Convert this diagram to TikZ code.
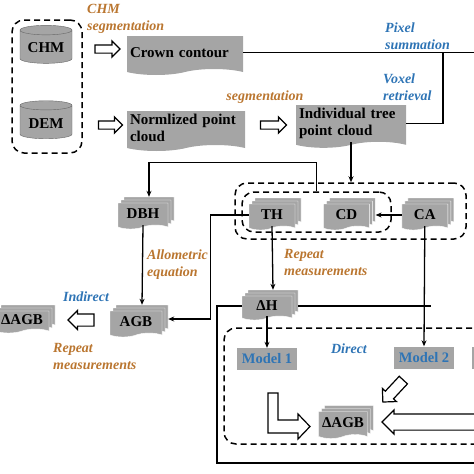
\documentclass[tikz,border=0pt]{standalone}
\usepackage{fontspec}
\setmainfont{Liberation Serif}
\usepackage{tikz}
\usetikzlibrary{shapes.geometric, shapes.symbols, shapes.arrows, shadows, arrows.meta, positioning}
\definecolor{boxgray}{RGB}{165,165,165}
\definecolor{notebrown}{RGB}{186,118,48}
\definecolor{noteblue}{RGB}{46,116,181}
\tikzstyle{db} = [cylinder, shape border rotate=90, aspect=0.22, draw=gray!80!black, fill=boxgray, minimum width=52pt, minimum height=38pt, font=\bfseries\fontsize{15}{17}\selectfont]
\tikzstyle{doc} = [tape, tape bend top=none, tape bend bottom=in and out, tape bend height=6pt, fill=boxgray, draw=none, align=left, inner sep=3pt, font=\bfseries\fontsize{15}{17}\selectfont]
\tikzstyle{stack} = [tape, tape bend top=none, tape bend bottom=in and out, tape bend height=4pt, fill=boxgray, draw=white, minimum width=46pt, minimum height=26pt, double copy shadow={shadow xshift=3pt, shadow yshift=3pt, fill=boxgray, draw=white}, font=\bfseries\fontsize{15}{17}\selectfont]
\tikzstyle{model} = [rectangle, fill=boxgray, minimum width=60pt, minimum height=22pt, text=noteblue, font=\bfseries\fontsize{14.5}{17}\selectfont]
\tikzstyle{group} = [rectangle, draw, dash pattern=on 6pt off 4pt, line width=1.5pt, rounded corners=12pt]
\tikzstyle{hollow} = [single arrow, draw, fill=white, line width=1.2pt, inner sep=3.5pt, single arrow head extend=4pt]
\tikzstyle{link} = [line width=1.3pt, -{Stealth[length=6pt, width=5pt]}]
\tikzstyle{wire} = [line width=1.3pt]
\tikzstyle{brownnote} = [text=notebrown, align=left, inner sep=1pt, font=\bfseries\itshape\fontsize{14}{17}\selectfont]
\tikzstyle{bluenote} = [text=noteblue, align=left, inner sep=1pt, font=\bfseries\itshape\fontsize{14}{17}\selectfont]

\begin{document}
\begin{tikzpicture}[x=1pt, y=-1pt]
\useasboundingbox (0,0) rectangle (474,474);

% Input rasters
\node[db] (chm) at (46,48) {CHM};
\node[db, below=37pt of chm] (dem) {DEM};
\node[group, minimum width=70pt, minimum height=133pt] (rasters) at (47,86.5) {};

% Point cloud products
\node[doc, text width=110pt, minimum height=39pt] (crown) at (185,52.5) {Crown contour};
\node[doc, text width=112pt, minimum height=40pt] (normpc) at (186,128) {Normlized point\\cloud};
\node[doc, text width=104pt, minimum height=37pt] (treepc) at (351,123.5) {Individual tree\\point cloud};

% Block arrows (top)
\node[hollow, minimum height=25pt] (chmarrow) at (105.5,49) {};
\node[hollow, minimum height=24pt] (demarrow) at (108.5,125) {};
\node[hollow, minimum height=26pt] (segarrow) at (271.5,125) {};

% Labels (top)
\node[brownnote, anchor=west] (chmseg) at (86,18.5) {CHM\\segmentation};
\node[brownnote] (treeseg) at (265,97) {segmentation};
\node[bluenote, anchor=west] (pixsum) at (384,36) {Pixel\\summation};
\node[bluenote, anchor=west] (voxret) at (382,87) {Voxel\\retrieval};

% Tree attributes
\node[stack] (th) at (272,215) {TH};
\node[stack, right=28pt of th] (cd) {CD};
\node[stack, right=32pt of cd] (ca) {CA};
\node[group, minimum width=149pt, minimum height=40pt] (inner) at (316.5,212) {};
\node[group, minimum width=231pt, minimum height=56pt] (outer) at (350.5,211) {};

% Indirect path
\node[stack, minimum width=50pt] (dbh) at (143,214) {DBH};
\node[stack, minimum width=52pt] (agb) at (136,322) {AGB};
\node[stack, minimum width=54pt, minimum height=22pt] (dagbind) at (22,320) {ΔAGB};
\node[hollow, minimum height=26pt, inner sep=5.5pt, single arrow head extend=3.5pt, shape border rotate=180] (indarrow) at (84,320) {};
\node[brownnote, anchor=west] (allom) at (146,265) {Allometric\\equation};
\node[bluenote] (indirect) at (86,297) {Indirect};
\node[brownnote, anchor=west] (repleft) at (52,356) {Repeat\\measurements};

% Direct path
\node[stack, minimum width=50pt, minimum height=24pt] (dh) at (267,306) {ΔH};
\node[brownnote, anchor=west] (repright) at (283,262) {Repeat\\measurements};
\node[group, minimum width=280pt, minimum height=116pt] (direct) at (364,386) {};
\node[bluenote] (directlbl) at (349,349) {Direct};
\node[model] (model1) at (267,359) {Model 1};
\node[model] (model2) at (424,357.5) {Model 2};
\node[model] (model3) at (502,357.5) {};
\node[stack, minimum width=48pt, minimum height=27pt] (dagbdir) at (343,423) {ΔAGB};

% Block arrows (bottom)
\node[hollow, minimum height=30pt, inner sep=5pt, rotate=227] (m2arrow) at (395,389) {};
\node[hollow, minimum height=112pt, inner sep=7.5pt, shape border rotate=180] (bigarrow) at (442,422) {};
\draw[line width=1.2pt, fill=white] (268,393) -- (268,433) -- (298,433) -- (298,439) -- (310,426.5) -- (298,414) -- (298,420) -- (278,420) -- (278,393) -- cycle;

% Connectors
\coordinate (pixout) at (474,53);
\coordinate (pixjoin) at (443,53);
\coordinate (loopcorner) at (217,463);
\draw[wire] (crown.east) -- (crown.east -| pixout);
\draw[wire] (treepc.east) -| (pixjoin);
\draw[link] (treepc.south) -- (treepc.south |- outer.north);
\draw[link] (inner.north) -- ++(0,-29) -| ([shift={(6pt,6pt)}]dbh.north);
\draw[link] (th.west) -- ++(-38,0) |- ([shift={(6pt,3pt)}]agb.east);
\draw[link] (dbh.south) -- ([shift={(6pt,6pt)}]agb.north);
\draw[link] (th.south) -- ([shift={(6pt,6pt)}]dh.north);
\draw[link] (ca.west) -- ([xshift=6pt]cd.east);
\draw[link] (ca.south) -- (model2.north);
\draw[wire] ([xshift=6pt]dh.east) -- ([xshift=6pt]dh.east -| ca.south);
\draw[wire] (dh.west) -| (loopcorner) -- (loopcorner -| pixout);
\draw[link] (dh.south) -- (model1.north);

\end{tikzpicture}
\end{document}
